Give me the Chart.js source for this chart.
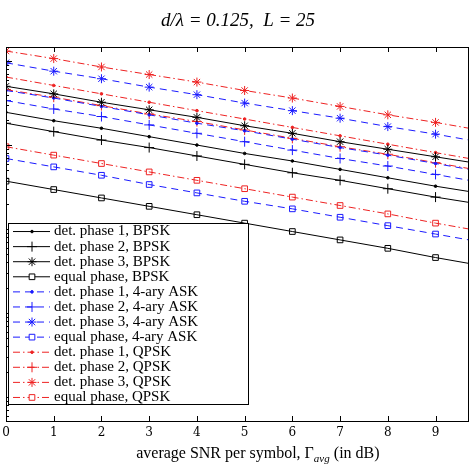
<!DOCTYPE html>
<html><head><meta charset="utf-8">
<script src="https://cdn.jsdelivr.net/npm/chart.js@4"></script>
<style>html,body{margin:0;padding:0;background:#fff}#c{display:block}</style>
</head><body>
<div style="width:474px;height:474px"><canvas id="c"></canvas></div>
<script>
const snr = [0,1,2,3,4,5,6,7,8,9,10];
// log10 of error probability
const det1BPSK = [-1.61,-1.71,-1.80,-1.90,-2.00,-2.10,-2.19,-2.29,-2.39,-2.49,-2.58];
const det2BPSK = [-1.74,-1.84,-1.94,-2.03,-2.13,-2.23,-2.33,-2.42,-2.52,-2.62,-2.71];
const det3BPSK = [-1.30,-1.39,-1.49,-1.58,-1.67,-1.77,-1.86,-1.96,-2.05,-2.14,-2.23];
const eqBPSK   = [-2.43,-2.53,-2.63,-2.73,-2.83,-2.93,-3.03,-3.13,-3.23,-3.34,-3.44];
const det1ASK  = [-1.35,-1.44,-1.54,-1.64,-1.74,-1.83,-1.93,-2.03,-2.12,-2.22,-2.32];
const det2ASK  = [-1.47,-1.57,-1.66,-1.76,-1.86,-1.96,-2.06,-2.16,-2.25,-2.35,-2.45];
const det3ASK  = [-1.02,-1.12,-1.21,-1.31,-1.40,-1.50,-1.59,-1.68,-1.78,-1.87,-1.97];
const eqASK    = [-2.16,-2.26,-2.36,-2.47,-2.57,-2.67,-2.76,-2.86,-2.96,-3.06,-3.16];
const det1QPSK = [-1.19,-1.29,-1.39,-1.49,-1.59,-1.69,-1.79,-1.89,-1.99,-2.09,-2.19];
const det2QPSK = [-1.34,-1.43,-1.53,-1.63,-1.72,-1.82,-1.92,-2.02,-2.11,-2.21,-2.31];
const det3QPSK = [-0.88,-0.97,-1.07,-1.16,-1.25,-1.35,-1.44,-1.54,-1.64,-1.73,-1.83];
const eqQPSK   = [-2.02,-2.12,-2.22,-2.32,-2.42,-2.52,-2.62,-2.72,-2.82,-2.93,-3.03];
const xTicks = [0,1,2,3,4,5,6,7,8,9];
const labels = ['det. phase 1, BPSK','det. phase 2, BPSK','det. phase 3, BPSK','equal phase, BPSK',
 'det. phase 1, 4-ary ASK','det. phase 2, 4-ary ASK','det. phase 3, 4-ary ASK','equal phase, 4-ary ASK',
 'det. phase 1, QPSK','det. phase 2, QPSK','det. phase 3, QPSK','equal phase, QPSK'];
const series = [det1BPSK,det2BPSK,det3BPSK,eqBPSK,det1ASK,det2ASK,det3ASK,eqASK,det1QPSK,det2QPSK,det3QPSK,eqQPSK];

const colors = ['#000','#1a1aff','#ee2222'];
const dashes = [[],[7,5],[7,3,1.5,3]];
const pts = ['circle','cross','star','rect'];
const rads = [1.3,5,4.5,4];
const datasets = series.map((s,i)=>{
  const g=Math.floor(i/4), k=i%4;
  return {label:labels[i], data:s.map((v,j)=>({x:snr[j],y:Math.pow(10,v)})),
    borderColor:colors[g], backgroundColor:k==0?colors[g]:'rgba(0,0,0,0)', borderWidth:1, borderDash:dashes[g],
    pointStyle:pts[k], pointRadius:rads[k], pointBorderColor:colors[g], pointBorderWidth:1, pointHoverRadius:rads[k], tension:0};
});

const deco = {id:'deco', afterDraw(ch){
  const c=ch.ctx, a=ch.chartArea, xs=ch.scales.x, ys=ch.scales.y;
  c.save();
  c.strokeStyle='#000'; c.lineWidth=1;
  c.strokeRect(a.left+0.5,a.top+0.5,a.right-a.left,a.bottom-a.top);
  c.beginPath();
  xTicks.forEach(t=>{const x=Math.round(xs.getPixelForValue(t))+0.5;
    c.moveTo(x,a.bottom);c.lineTo(x,a.bottom-5);c.moveTo(x,a.top);c.lineTo(x,a.top+5);});
  for(let e=-6;e<=0;e++){for(let m=1;m<10;m++){const v=m*Math.pow(10,e);
    if(v<ys.min||v>ys.max)continue;const y=Math.round(ys.getPixelForValue(v))+0.5;
    c.moveTo(a.left,y);c.lineTo(a.left+(m==1?6:3),y);}}
  c.stroke();
  c.fillStyle='#000'; c.font='12px "DejaVu Serif", serif'; c.textAlign='center'; c.textBaseline='top';
  xTicks.forEach(t=>c.fillText(String(t),xs.getPixelForValue(t),a.bottom+6));
  c.font='16px "Liberation Serif", serif'; c.textBaseline='alphabetic';
  c.fillText('average SNR per symbol, \u0393',225,458);
  let w=c.measureText('average SNR per symbol, \u0393').width;
  c.font='italic 11px "Liberation Serif", serif'; c.textAlign='left';
  c.fillText('avg',225+w/2,462);
  c.font='16px "Liberation Serif", serif';
  c.fillText('(in dB)',225+w/2+20,458);
  c.textAlign='center'; c.font='italic 19px "Liberation Serif", serif';
  c.fillText('d/\u03bb = 0.125,  L = 25',238,26);
  // legend
  const lx=8, ly=223, lw=240, lh=181;
  c.fillStyle='#fff'; c.fillRect(lx,ly,lw,lh); c.strokeRect(lx+0.5,ly+0.5,lw,lh);
  const rowH=lh/12;
  datasets.forEach((d,i)=>{const y=ly+rowH*(i+0.5)+1;
    c.strokeStyle=d.borderColor; c.lineWidth=1; c.setLineDash(d.borderDash); c.beginPath(); c.moveTo(lx+5,y); c.lineTo(lx+42,y); c.stroke(); c.setLineDash([]);
    c.fillStyle=d.pointStyle==='rect'?'#fff':d.borderColor;
    Chart.helpers.drawPoint(c,{pointStyle:d.pointStyle,radius:d.pointRadius,borderWidth:1},lx+24,y);
    c.fillStyle='#000'; c.font='15px "Liberation Serif", serif'; c.textAlign='left'; c.textBaseline='middle';
    c.fillText(d.label,lx+46,y);});
  c.restore();
}};
new Chart(document.getElementById('c'),{type:'line',data:{datasets},
 options:{responsive:true,maintainAspectRatio:false,animation:false,
  layout:{padding:{left:5,right:-1,top:47,bottom:53}},
  plugins:{legend:{display:false},tooltip:{enabled:false}},
  scales:{x:{type:'linear',min:0,max:9.68,display:false},
          y:{type:'logarithmic',min:Math.pow(10,-5.287),max:Math.pow(10,-0.832),display:false}}},
 plugins:[deco]});
</script></body></html>
